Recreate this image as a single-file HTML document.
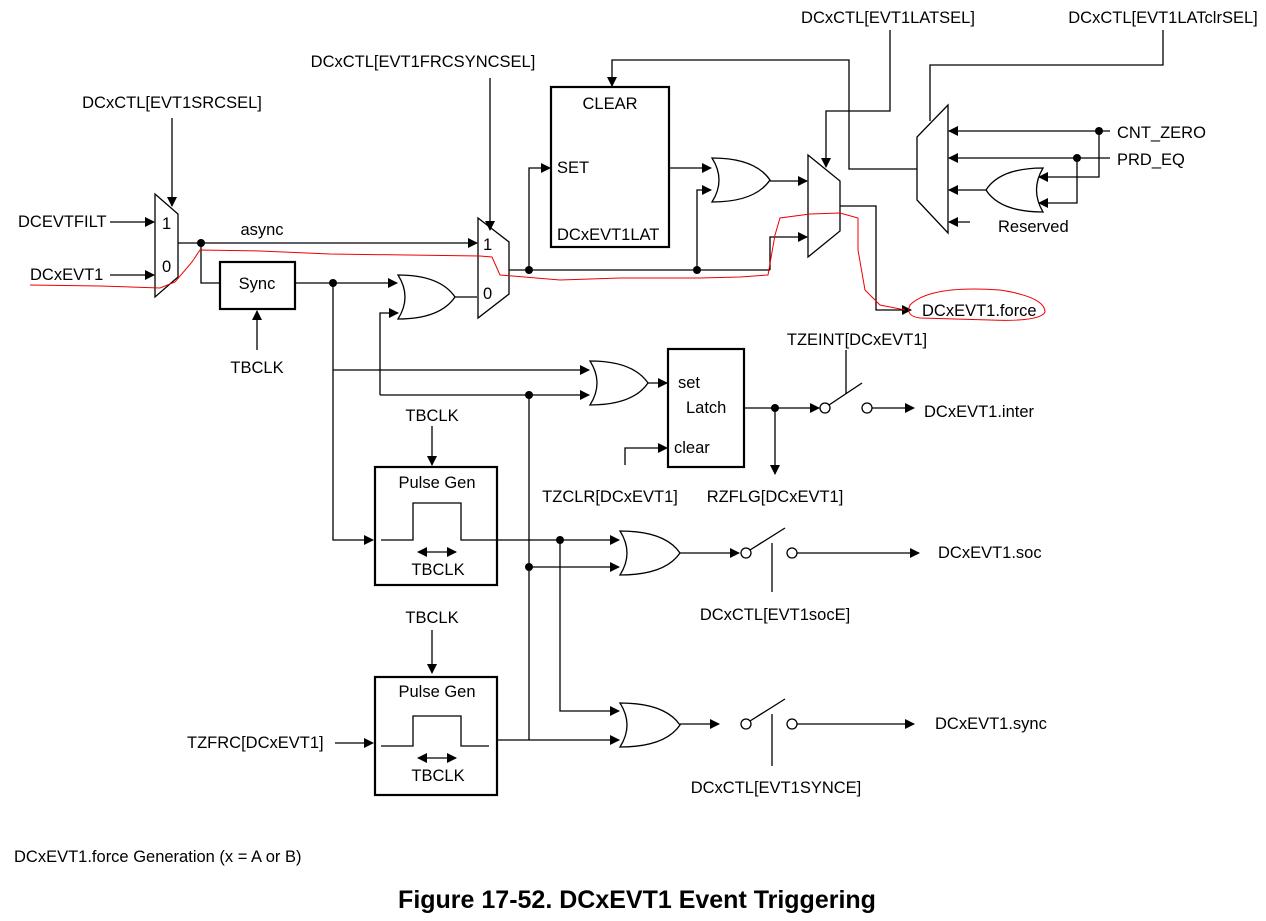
<!DOCTYPE html>
<html><head><meta charset="utf-8"><style>
html,body{margin:0;padding:0;background:#fff;}
svg{display:block;}
text{font-family:"Liberation Sans",Arial,sans-serif;font-size:16.5px;fill:#000;}
</style></head><body>
<svg width="1266" height="921" viewBox="0 0 1266 921" xmlns="http://www.w3.org/2000/svg">
<defs>
<marker id="a" markerWidth="10" markerHeight="10" refX="9" refY="5" orient="auto-start-reverse" markerUnits="userSpaceOnUse"><path d="M0,0 L10,5 L0,10 Z" fill="#000"/></marker>
</defs>
<g fill="none" stroke="#000" stroke-width="1.3">
<path d="M155,194 L178,214 L178,277 L155,297 Z"/>
<line x1="110" y1="222" x2="154" y2="222" marker-end="url(#a)"/>
<line x1="110" y1="275" x2="154" y2="275" marker-end="url(#a)"/>
<line x1="172" y1="118" x2="172" y2="206" marker-end="url(#a)"/>
<line x1="178" y1="243" x2="477" y2="243" marker-end="url(#a)"/>
<polyline points="201,243 201,283 220,283"/>
<rect x="220" y="262" width="75" height="47" stroke-width="2.2"/>
<line x1="257" y1="350" x2="257" y2="311" marker-end="url(#a)"/>
<polyline points="295,283 397,283" marker-end="url(#a)"/>
<path d="M398,275 Q440,275 455,297 Q440,319 398,319 Q412,297 398,275 Z"/>
<polyline points="380,395 380,313 398,313" marker-end="url(#a)"/>
<line x1="455" y1="297" x2="477" y2="297"/>
<path d="M478,218 L509,242 L509,294 L478,318 Z"/>
<line x1="490" y1="78" x2="490" y2="230" marker-end="url(#a)"/>
<line x1="509" y1="270" x2="770" y2="270"/>
<polyline points="529,270 529,168 550,168" marker-end="url(#a)"/>
<rect x="551" y="87" width="118" height="160" stroke-width="2.2"/>
<polyline points="669,168 695,168 711,168" marker-end="url(#a)"/>
<polyline points="697,270 697,190 711,190" marker-end="url(#a)"/>
<path d="M712,158 Q755,158 770,180 Q755,202 712,202 Q726,180 712,158 Z"/>
<line x1="770" y1="181" x2="807" y2="181" marker-end="url(#a)"/>
<polyline points="770,270 770,237 807,237" marker-end="url(#a)"/>
<path d="M808,155 L840,181 L840,231 L808,257 Z"/>
<polyline points="890,30 890,111 826,111 826,167" marker-end="url(#a)"/>
<polyline points="840,206 876,206 876,310 911,310" marker-end="url(#a)"/>
<polyline points="917,169 849,169 849,60 612,60 612,86" marker-end="url(#a)"/>
<path d="M948,105 L948,233 L917,200 L917,137 Z"/>
<polyline points="1163,30 1163,65 930,65 930,121"/>
<line x1="1110" y1="131" x2="949" y2="131" marker-end="url(#a)"/>
<line x1="1110" y1="158" x2="949" y2="158" marker-end="url(#a)"/>
<line x1="986" y1="190" x2="949" y2="190" marker-end="url(#a)"/>
<line x1="970" y1="222" x2="949" y2="222" marker-end="url(#a)"/>
<path d="M1043,168 Q1000,168 986,190 Q1000,212 1043,212 Q1030,190 1043,168 Z"/>
<polyline points="1099,131 1099,177 1039,177" marker-end="url(#a)"/>
<polyline points="1077,158 1077,203 1039,203" marker-end="url(#a)"/>
<polyline points="333,283 333,540 373,540" marker-end="url(#a)"/>
<line x1="333" y1="370" x2="589" y2="370" marker-end="url(#a)"/>
<line x1="380" y1="395" x2="589" y2="395" marker-end="url(#a)"/>
<line x1="529" y1="395" x2="529" y2="740"/>
<path d="M590,361 Q633,361 648,383 Q633,405 590,405 Q604,383 590,361 Z"/>
<line x1="648" y1="383" x2="667" y2="383" marker-end="url(#a)"/>
<rect x="668" y="349" width="76" height="118" stroke-width="2.2"/>
<polyline points="625,465 625,448 667,448" marker-end="url(#a)"/>
<line x1="744" y1="408" x2="819" y2="408" marker-end="url(#a)"/>
<line x1="775" y1="408" x2="775" y2="474" marker-end="url(#a)"/>
<circle cx="825" cy="408" r="5"/>
<line x1="829" y1="405" x2="862" y2="383"/>
<line x1="846" y1="350" x2="846" y2="394"/>
<circle cx="867" cy="408" r="5"/>
<line x1="872" y1="408" x2="914" y2="408" marker-end="url(#a)"/>
<rect x="375" y="467" width="122" height="118" stroke-width="2.2"/>
<line x1="432" y1="426" x2="432" y2="465" marker-end="url(#a)"/>
<polyline points="381,540 413,540 413,503 461,503 461,540 497,540"/>
<line x1="497" y1="540" x2="619" y2="540" marker-end="url(#a)"/>
<line x1="529" y1="567" x2="619" y2="567" marker-end="url(#a)"/>
<line x1="418" y1="552" x2="456" y2="552" marker-start="url(#a)" marker-end="url(#a)"/>
<polyline points="560,540 560,711 619,711" marker-end="url(#a)"/>
<path d="M620,531 Q665,531 680,553 Q665,575 620,575 Q634,553 620,531 Z"/>
<line x1="680" y1="553" x2="739" y2="553" marker-end="url(#a)"/>
<circle cx="746" cy="553" r="5"/>
<line x1="750" y1="550" x2="785" y2="528"/>
<line x1="772" y1="543" x2="772" y2="592"/>
<circle cx="792" cy="553" r="5"/>
<line x1="797" y1="553" x2="919" y2="553" marker-end="url(#a)"/>
<rect x="375" y="677" width="122" height="118" stroke-width="2.2"/>
<line x1="432" y1="630" x2="432" y2="673" marker-end="url(#a)"/>
<polyline points="381,746 413,746 413,716 461,716 461,746 489,746"/>
<line x1="418" y1="758" x2="456" y2="758" marker-start="url(#a)" marker-end="url(#a)"/>
<line x1="335" y1="743" x2="373" y2="743" marker-end="url(#a)"/>
<line x1="497" y1="740" x2="619" y2="740" marker-end="url(#a)"/>
<path d="M620,703 Q665,703 680,725 Q665,747 620,747 Q634,725 620,703 Z"/>
<line x1="680" y1="724" x2="719" y2="724" marker-end="url(#a)"/>
<circle cx="746" cy="724" r="5"/>
<line x1="750" y1="721" x2="785" y2="699"/>
<line x1="772" y1="714" x2="772" y2="766"/>
<circle cx="792" cy="724" r="5"/>
<line x1="797" y1="724" x2="914" y2="724" marker-end="url(#a)"/>
</g>
<g fill="#000">
<circle cx="201" cy="243" r="4"/><circle cx="333" cy="283" r="4"/>
<circle cx="529" cy="270" r="4"/><circle cx="697" cy="270" r="4"/>
<circle cx="1099" cy="131" r="4"/><circle cx="1077" cy="158" r="4"/>
<circle cx="529" cy="395" r="4"/><circle cx="775" cy="408" r="4"/>
<circle cx="560" cy="540" r="4"/><circle cx="529" cy="567" r="4"/>
</g>
<g fill="none" stroke="#e00" stroke-width="1">
<path d="M30,285 L100,286 L160,288 L175,282 L192,262 L200,250 L260,251 L330,254 L480,256 L492,257 L500,275 L560,280 L620,278 L700,278 L740,277 L768,275 L775,235 L780,218 L810,214 L840,213 L858,218 L858,250 L865,290 L880,305 L905,310"/>
<path d="M910,305 Q930,285 1000,290 Q1045,297 1045,312 Q1040,322 990,320 L920,318 Q905,316 910,305 Z"/>
</g>
<g>
<text x="172" y="108" text-anchor="middle">DCxCTL[EVT1SRCSEL]</text>
<text x="18" y="227">DCEVTFILT</text>
<text x="30" y="280">DCxEVT1</text>
<text x="162" y="229">1</text>
<text x="162" y="272">0</text>
<text x="262" y="235" text-anchor="middle">async</text>
<text x="257" y="289" text-anchor="middle">Sync</text>
<text x="257" y="373" text-anchor="middle">TBCLK</text>
<text x="423" y="67" text-anchor="middle">DCxCTL[EVT1FRCSYNCSEL]</text>
<text x="483" y="250">1</text>
<text x="483" y="299">0</text>
<text x="610" y="109" text-anchor="middle">CLEAR</text>
<text x="557" y="173">SET</text>
<text x="557" y="240">DCxEVT1LAT</text>
<text x="888" y="23" text-anchor="middle">DCxCTL[EVT1LATSEL]</text>
<text x="1163" y="23" text-anchor="middle">DCxCTL[EVT1LATclrSEL]</text>
<text x="1117" y="138">CNT_ZERO</text>
<text x="1117" y="165">PRD_EQ</text>
<text x="998" y="232">Reserved</text>
<text x="922" y="316">DCxEVT1.force</text>
<text x="857" y="345" text-anchor="middle">TZEINT[DCxEVT1]</text>
<text x="678" y="388">set</text>
<text x="686" y="413">Latch</text>
<text x="674" y="453">clear</text>
<text x="924" y="417">DCxEVT1.inter</text>
<text x="610" y="502" text-anchor="middle">TZCLR[DCxEVT1]</text>
<text x="775" y="502" text-anchor="middle">RZFLG[DCxEVT1]</text>
<text x="432" y="421" text-anchor="middle">TBCLK</text>
<text x="437" y="488" text-anchor="middle">Pulse Gen</text>
<text x="438" y="575" text-anchor="middle">TBCLK</text>
<text x="938" y="558">DCxEVT1.soc</text>
<text x="775" y="620" text-anchor="middle">DCxCTL[EVT1socE]</text>
<text x="432" y="623" text-anchor="middle">TBCLK</text>
<text x="437" y="697" text-anchor="middle">Pulse Gen</text>
<text x="438" y="781" text-anchor="middle">TBCLK</text>
<text x="187" y="748">TZFRC[DCxEVT1]</text>
<text x="935" y="729">DCxEVT1.sync</text>
<text x="776" y="793" text-anchor="middle">DCxCTL[EVT1SYNCE]</text>
<text x="14" y="862" style="font-size:16.5px">DCxEVT1.force Generation (x = A or B)</text>
<text x="637" y="908" text-anchor="middle" style="font-size:25px;font-weight:bold">Figure 17-52. DCxEVT1 Event Triggering</text>
</g>
</svg>
</body></html>
